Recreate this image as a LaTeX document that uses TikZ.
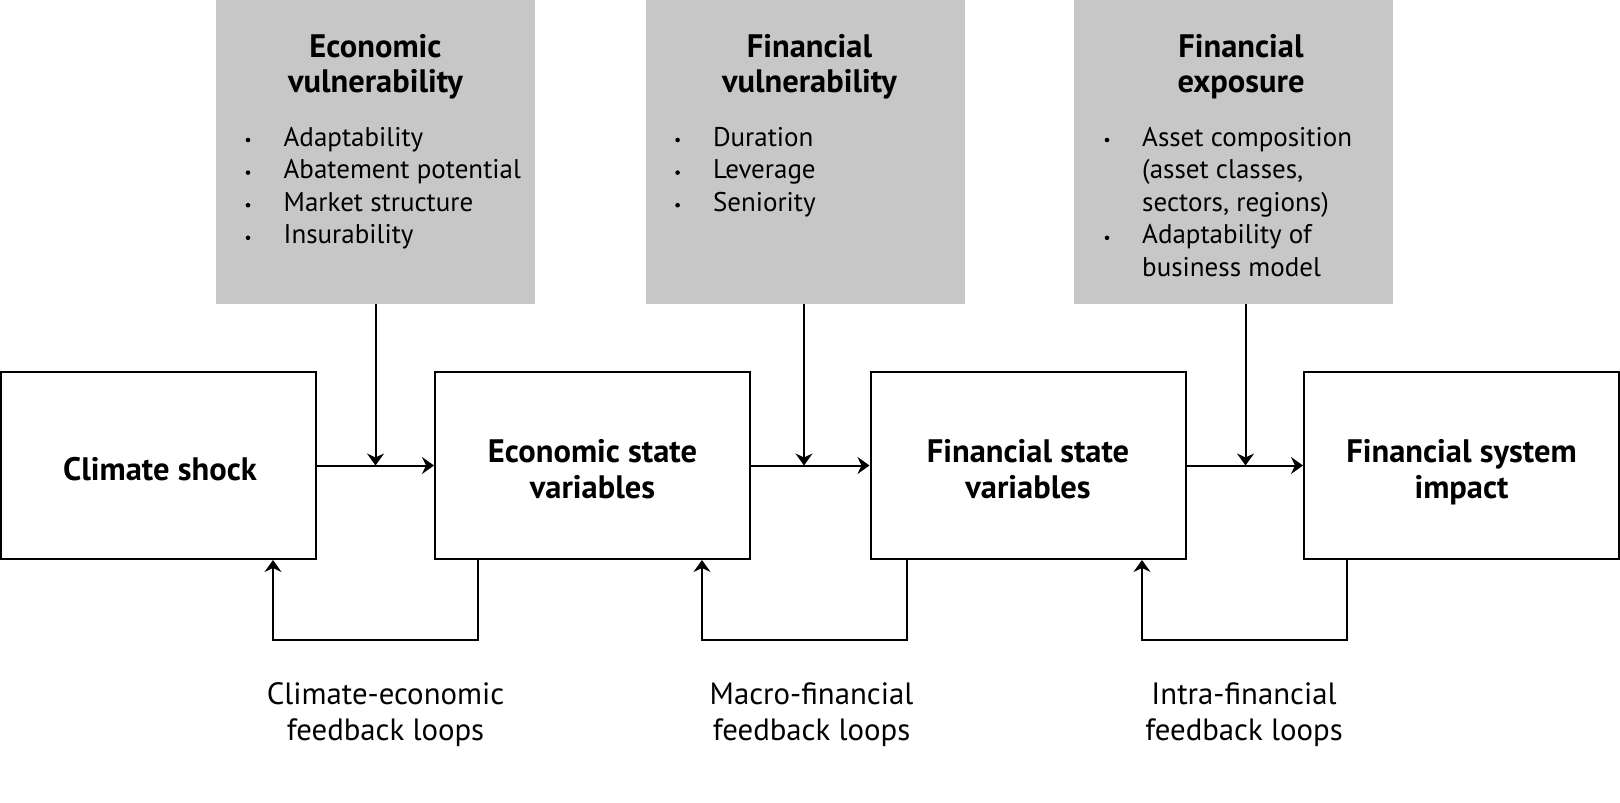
\documentclass[tikz,border=0pt]{standalone}
\usepackage{fontspec}
\setmainfont{PT Sans}
\usetikzlibrary{arrows.meta}
\definecolor{boxgray}{RGB}{199,199,199}
\tikzset{
  graybox/.style={fill=boxgray, draw=none, inner sep=0pt, minimum width=319pt, minimum height=304pt, anchor=north west},
  statebox/.style={draw=black, line width=2pt, fill=white, inner sep=0pt, minimum width=315pt, minimum height=187pt},
  conn/.style={draw=black, line width=2pt, -{Stealth[length=12pt,width=17pt,inset=4pt]}},
  ttl/.style={font=\fontsize{32.5}{36}\selectfont\bfseries, inner sep=0pt, anchor=base},
  itm/.style={font=\fontsize{27}{33}\selectfont, inner sep=0pt, anchor=base west},
  bul/.style={circle, fill=black, draw=none, inner sep=0pt, minimum size=4.6pt},
  lbl/.style={font=\fontsize{30.8}{36}\selectfont, inner sep=0pt, anchor=base},
}
\begin{document}
\begin{tikzpicture}[x=1pt,y=-1pt]
\useasboundingbox (0,0) rectangle (1620,803);
% gray boxes
\node[graybox] (g1) at (216,0) {};
\node[graybox] (g2) at (646,0) {};
\node[graybox] (g3) at (1074,0) {};
% state boxes
\node[statebox] (b1) at (158.5,465.5) {};
\node[statebox] (b2) at (592.5,465.5) {};
\node[statebox] (b3) at (1028,465.5) {};
\node[statebox] (b4) at (1461.5,465.5) {};
% state box texts
\node[ttl] (t1) at (160,480) {Climate shock};
\node[ttl] (t2a) at (592.5,462) {Economic state};
\node[ttl] (t2b) at (592.5,498) {variables};
\node[ttl] (t3a) at (1028,462) {Financial state};
\node[ttl] (t3b) at (1028,498) {variables};
\node[ttl] (t4a) at (1461.5,462) {Financial system};
\node[ttl] (t4b) at (1461.5,498) {impact};
% gray titles
\node[ttl] (h1a) at (375.5,57) {Economic};
\node[ttl] (h1b) at (375.5,92) {vulnerability};
\node[ttl] (h2a) at (809.5,57) {Financial};
\node[ttl] (h2b) at (809.5,92) {vulnerability};
\node[ttl] (h3a) at (1241,57) {Financial};
\node[ttl] (h3b) at (1241,92) {exposure};
% lists
\foreach \t [count=\i] in {Adaptability, Abatement potential, Market structure, Insurability} {
  \node[itm] (e\i) at (283.5,{146+32.6*(\i-1)}) {\t};
  \node[bul] (eb\i) at (248,{140+32.6*(\i-1)}) {};
}
\foreach \t [count=\i] in {Duration, Leverage, Seniority} {
  \node[itm] (f\i) at (712.8,{146+32.6*(\i-1)}) {\t};
  \node[bul] (fb\i) at (677.6,{140+32.6*(\i-1)}) {};
}
\foreach \t [count=\i] in {Asset composition, {(asset classes,}, {sectors, regions)}, Adaptability of, business model} {
  \node[itm] (x\i) at (1142,{146+32.6*(\i-1)}) {\t};
}
\node[bul] (xb1) at (1107,140) {};
\node[bul] (xb2) at (1107,237.8) {};
% feedback labels
\node[lbl] (l1a) at (385.5,704) {Climate-economic};
\node[lbl] (l1b) at (385.5,740) {feedback loops};
\node[lbl] (l2a) at (811.5,704) {Macro-financial};
\node[lbl] (l2b) at (811.5,740) {feedback loops};
\node[lbl] (l3a) at (1244,704) {Intra-financial};
\node[lbl] (l3b) at (1244,740) {feedback loops};
% main arrows
\draw[conn] (b1.east) -- (b2.west);
\draw[conn] (b2.east) -- (b3.west);
\draw[conn] (b3.east) -- (b4.west);
% vertical arrows
\coordinate (j1) at (375.5,465.5);
\coordinate (j2) at (804,465.5);
\coordinate (j3) at (1245.5,465.5);
\draw[conn] (g1.south -| j1) -- (j1);
\draw[conn] (g2.south -| j2) -- (j2);
\draw[conn] (g3.south -| j3) -- (j3);
% feedback loops
\coordinate (p1a) at (478,640); \coordinate (p1b) at (273,640);
\coordinate (p2a) at (907,640); \coordinate (p2b) at (702,640);
\coordinate (p3a) at (1347,640); \coordinate (p3b) at (1142,640);
\draw[conn] (b2.south -| p1a) -- (p1a) -- (p1b) -- (b1.south -| p1b);
\draw[conn] (b3.south -| p2a) -- (p2a) -- (p2b) -- (b2.south -| p2b);
\draw[conn] (b4.south -| p3a) -- (p3a) -- (p3b) -- (b3.south -| p3b);
\end{tikzpicture}
\end{document}
